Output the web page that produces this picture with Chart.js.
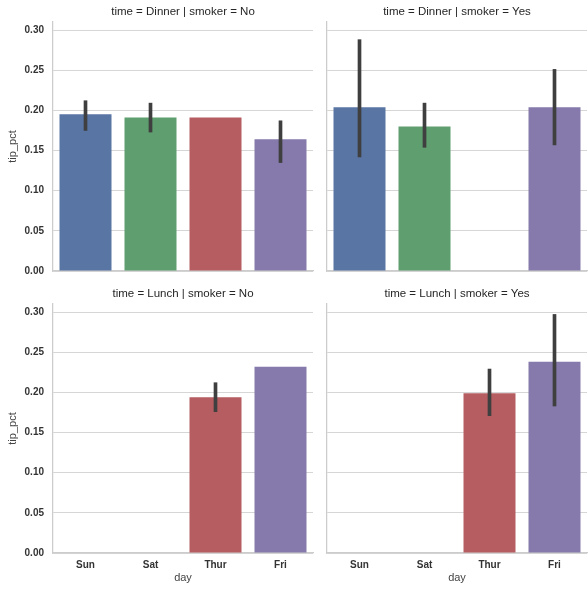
<!DOCTYPE html>
<html>
<head>
<meta charset="utf-8">
<script src="https://cdn.jsdelivr.net/npm/chart.js@4.4.0/dist/chart.umd.min.js"></script>
<style>
  html, body { margin: 0; padding: 0; background: #ffffff; }
  body { width: 588px; height: 591px; position: relative; overflow: hidden; }
  .panel { position: absolute; }
</style>
</head>
<body>
<div class="panel" id="p1" style="left:0px; top:0px; width:314px; height:290px;"><canvas id="c1"></canvas></div>
<div class="panel" id="p2" style="left:320px; top:0px; width:268px; height:290px;"><canvas id="c2"></canvas></div>
<div class="panel" id="p3" style="left:0px; top:282px; width:314px; height:309px;"><canvas id="c3"></canvas></div>
<div class="panel" id="p4" style="left:320px; top:282px; width:268px; height:309px;"><canvas id="c4"></canvas></div>
<script>
// ---- data ----
const days = ['Sun', 'Sat', 'Thur', 'Fri'];
const yTicks = [0.00, 0.05, 0.10, 0.15, 0.20, 0.25, 0.30];

const dinnerNoMean = [0.195, 0.191, 0.191, 0.164];
const dinnerNoLow  = [0.175, 0.173, null, 0.135];
const dinnerNoHigh = [0.212, 0.209, null, 0.187];

const dinnerYesMean = [0.204, 0.180, null, 0.204];
const dinnerYesLow  = [0.142, 0.154, null, 0.157];
const dinnerYesHigh = [0.288, 0.209, null, 0.251];

const lunchNoMean = [null, null, 0.194, 0.232];
const lunchNoLow  = [null, null, 0.176, null];
const lunchNoHigh = [null, null, 0.212, null];

const lunchYesMean = [null, null, 0.199, 0.238];
const lunchYesLow  = [null, null, 0.171, 0.183];
const lunchYesHigh = [null, null, 0.229, 0.297];

const panelTitles = [
  'time = Dinner | smoker = No',
  'time = Dinner | smoker = Yes',
  'time = Lunch | smoker = No',
  'time = Lunch | smoker = Yes'
];

// ---- style ----
const barColors = ['#5875A4', '#5F9E6E', '#B55D60', '#857AAB'];
const errColor = '#3f3f3f';
const gridColor = '#d6d6d6';
const spineColor = '#cccccc';
const textColor = '#262626';
const FONT = '"Liberation Sans", Arial, sans-serif';

Chart.defaults.font.family = FONT;
Chart.defaults.color = textColor;

const facetTitle = {
  id: 'facetTitle',
  afterDraw(chart, args, opts) {
    const {ctx, chartArea} = chart;
    ctx.save();
    ctx.font = '11.5px ' + FONT;
    ctx.fillStyle = textColor;
    ctx.textAlign = 'center';
    ctx.textBaseline = 'middle';
    ctx.fillText(opts.text, (chartArea.left + chartArea.right) / 2, chartArea.top - 10);
    ctx.restore();
  }
};

function makePanel(canvasId, title, mean, low, high, showY, showX) {
  const errData = low.map((lo, i) => (lo === null || high[i] === null) ? null : [lo, high[i]]);
  new Chart(document.getElementById(canvasId), {
    type: 'bar',
    data: {
      labels: days,
      datasets: [
        {
          label: 'ci',
          data: errData,
          backgroundColor: errColor,
          barThickness: 3,
          grouped: false,
          order: 0,
          borderSkipped: false
        },
        {
          label: 'tip_pct',
          data: mean,
          backgroundColor: barColors,
          categoryPercentage: 1.0,
          barPercentage: 0.8,
          grouped: false,
          order: 1
        }
      ]
    },
    options: {
      responsive: true,
      maintainAspectRatio: false,
      animation: false,
      events: [],
      layout: { padding: { top: 22, right: 1, left: 0, bottom: 0 } },
      plugins: {
        legend: { display: false },
        tooltip: { enabled: false },
        title: { display: false },
        facetTitle: { text: title }
      },
      scales: {
        x: {
          grid: { display: false, drawTicks: false },
          border: { display: true, color: spineColor, width: 1.25 },
          ticks: {
            display: showX,
            padding: 6,
            font: { size: 10, weight: 'bold' },
            color: '#333333'
          },
          title: {
            display: showX,
            text: 'day',
            font: { size: 11 },
            padding: { top: 0, bottom: 6 },
            color: '#444444'
          },
          afterFit(scale) { scale.height = showX ? 38 : 19; }
        },
        y: {
          min: 0,
          max: 0.31,
          afterBuildTicks(scale) { scale.ticks = yTicks.map(v => ({ value: v })); },
          grid: { color: gridColor, lineWidth: 1, drawTicks: false },
          border: { display: true, color: spineColor, width: 1.25 },
          ticks: {
            display: showY,
            padding: 9,
            font: { size: 10, weight: 'bold' },
            color: '#333333',
            callback: (v) => Number(v).toFixed(2)
          },
          title: {
            display: showY,
            text: 'tip_pct',
            font: { size: 11 },
            padding: { top: 6, bottom: 6 },
            color: '#444444'
          },
          afterFit(scale) { scale.width = showY ? 53 : 7; }
        }
      }
    },
    plugins: [facetTitle]
  });
}

makePanel('c1', panelTitles[0], dinnerNoMean, dinnerNoLow, dinnerNoHigh, true, false);
makePanel('c2', panelTitles[1], dinnerYesMean, dinnerYesLow, dinnerYesHigh, false, false);
makePanel('c3', panelTitles[2], lunchNoMean, lunchNoLow, lunchNoHigh, true, true);
makePanel('c4', panelTitles[3], lunchYesMean, lunchYesLow, lunchYesHigh, false, true);
</script>
</body>
</html>
